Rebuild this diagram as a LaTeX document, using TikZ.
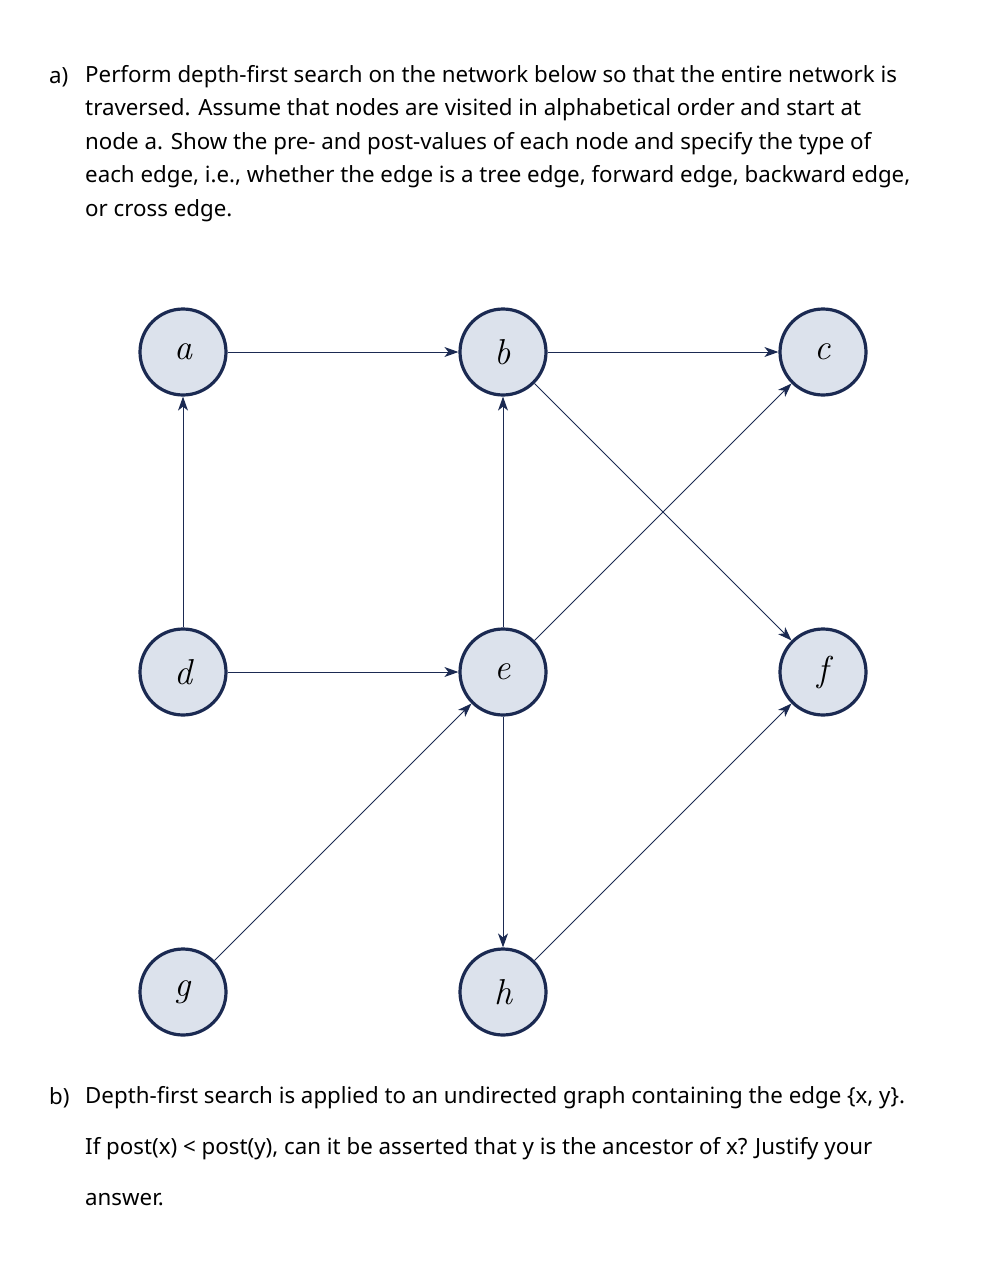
\documentclass[tikz,border=0pt]{standalone}
\usepackage{fontspec}
\setmainfont{Noto Sans}
\newfontfamily\lblfont{Latin Modern Roman}
\usetikzlibrary{arrows.meta}
\definecolor{navy}{HTML}{1B2A52}
\definecolor{nodefill}{HTML}{DCE2EC}
\tikzset{
  vert/.style={circle,draw=navy,line width=3.2pt,fill=nodefill,minimum size=86pt,inner sep=0pt,font=\lblfont\itshape\fontsize{36}{36}\selectfont},
  edge/.style={draw=navy,line width=1pt,-{Stealth[length=14pt,width=10pt,inset=4pt]}},
  txt/.style={anchor=west,inner sep=0pt,font=\fontsize{22.3}{24}\selectfont,text=black}
}
\begin{document}
\begin{tikzpicture}[x=1pt,y=-1pt]
\useasboundingbox (0,0) rectangle (1008,1274);
\node[txt] (la) at (49,77) {a)};
\node[txt] (t1) at (85,77) {Perform depth-first search on the network below so that the entire network is};
\node[txt] (t2) at (85,110) {traversed. Assume that nodes are visited in alphabetical order and start at};
\node[txt] (t3) at (85,144) {node a. Show the pre- and post-values of each node and specify the type of};
\node[txt] (t4) at (85,177) {each edge, i.e., whether the edge is a tree edge, forward edge, backward edge,};
\node[txt] (t5) at (85,211) {or cross edge.};
\node[vert] (a) at (183,352) {a};
\node[vert] (b) at (503,352) {b};
\node[vert] (c) at (823,352) {c};
\node[vert] (d) at (183,672) {d};
\node[vert] (e) at (503,672) {e};
\node[vert] (f) at (823,672) {f};
\node[vert] (g) at (183,992) {g};
\node[vert] (h) at (503,992) {h};
\draw[edge] (a) -- (b);
\draw[edge] (b) -- (c);
\draw[edge] (d) -- (a);
\draw[edge] (d) -- (e);
\draw[edge] (e) -- (b);
\draw[edge] (e) -- (c);
\draw[edge] (b) -- (f);
\draw[edge] (e) -- (h);
\draw[edge] (g) -- (e);
\draw[edge] (h) -- (f);
\node[txt] (lb) at (49,1098) {b)};
\node[txt] (u1) at (85,1098) {Depth-first search is applied to an undirected graph containing the edge \{x, y\}.};
\node[txt] (u2) at (85,1149) {If post(x) < post(y), can it be asserted that y is the ancestor of x? Justify your};
\node[txt] (u3) at (85,1200) {answer.};
\end{tikzpicture}
\end{document}
